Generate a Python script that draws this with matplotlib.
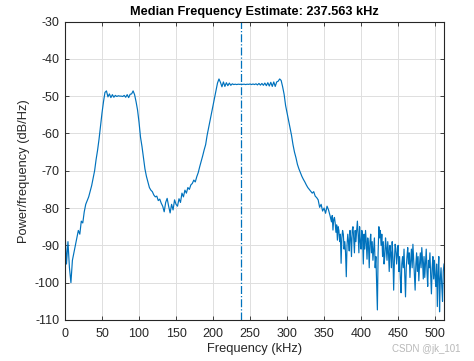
import numpy as np
import matplotlib
matplotlib.use("Agg")
import matplotlib.pyplot as plt

plt.rcParams['font.family'] = ['Liberation Sans', 'DejaVu Sans']
plt.rcParams['axes.unicode_minus'] = False

# Frequency bins (kHz): 2 kHz spacing up to 358, then 1 kHz spacing to 512
freq_khz = np.concatenate([np.arange(0, 360, 2), np.arange(360, 513, 1)])

# PSD estimate (dB/Hz), one value per bin
psd_db = [
    # 0-18
    -86, -95, -89, -96, -100, -94, -92, -90, -88, -86,
    # 20-38
    -87, -83.5, -84, -81, -79, -78, -77, -75.5, -74, -72,
    # 40-58
    -70, -67, -64.5, -61.5, -58, -54.5, -51.5, -49, -48.6, -50.2,
    # 60-78
    -49.4, -50.4, -49.6, -50.3, -49.8, -50.1, -49.9, -50.0, -50.0, -50.1,
    # 80-98
    -49.8, -50.3, -49.6, -50.4, -49.5, -49.4, -48.6, -49.6, -51.5, -53.7,
    # 100-118
    -57, -61, -63.5, -66.5, -69.5, -71.5, -73, -74.5, -75.2, -75.6,
    # 120-138
    -76.5, -77, -76.8, -78, -77.6, -78.7, -79.5, -81, -78.5, -77.4,
    # 140-158
    -79.5, -81.3, -79, -80.5, -77.8, -79, -79.5, -77.5, -78.5, -76,
    # 160-178
    -77, -75.2, -76, -74.5, -75, -73.8, -73.4, -72.5, -73, -71.6,
    # 180-198
    -70.5, -68.9, -67.5, -66, -64.4, -63, -60.5, -58.5, -56.5, -54.5,
    # 200-218
    -52.5, -50.5, -48.5, -46.5, -45.4, -46.3, -47.5, -46.2, -47.4, -46.4,
    # 220-238
    -47.2, -46.5, -47.1, -46.7, -46.9, -46.8, -46.9, -46.8, -46.85, -46.8,
    # 240-258
    -46.85, -46.8, -46.9, -46.8, -46.85, -46.75, -46.9, -46.75, -46.9, -46.7,
    # 260-278
    -47.0, -46.6, -47.05, -46.6, -47.1, -46.5, -47.2, -46.4, -47.3, -46.3,
    # 280-298
    -47.4, -46.2, -47.4, -46.2, -46.0, -45.4, -45.8, -47.5, -49.5, -52.5,
    # 300-318
    -54.5, -56.5, -58.5, -60.5, -63, -65, -66.5, -68.3, -69.5, -70.5,
    # 320-338
    -71.5, -72.3, -73, -73.8, -74.5, -75, -75.5, -76, -75.6, -76.8,
    # 340-358
    -77.2, -77.8, -79.8, -79, -80.8, -80, -81.4, -79.5, -80.5, -82,
    # 360-369 (1 kHz bins from here)
    -83.7, -82, -85.9, -83, -82.5, -84, -86.5, -84.5, -88.6, -85,
    # 370-379
    -86, -89, -87, -94.8, -88, -86, -87, -91, -89, -92,
    # 380-389
    -98.4, -90, -87, -89, -91.5, -86, -88, -93, -86, -85,
    # 390-399
    -88, -92, -86, -89, -86, -83.5, -87, -92, -85, -89,
    # 400-409
    -91, -86, -88, -95, -87, -91, -86, -89, -93.7, -88,
    # 410-419
    -90, -96, -89, -87, -92, -89, -94, -91, -88, -96,
    # 420-429
    -93, -100, -107.3, -92, -85, -88, -86, -90, -87, -93,
    # 430-439
    -89, -95, -93, -88, -90.6, -94, -89, -92, -97, -90,
    # 440-449
    -92, -96, -89, -93, -102, -94, -89.7, -91, -95, -92,
    # 450-459
    -90, -97, -93, -99, -102.7, -95, -93, -96, -91, -98,
    # 460-469
    -103.8, -96, -93, -90.6, -95, -92, -98.6, -94, -91, -96,
    # 470-479
    -89.7, -94, -98, -102, -95, -92, -97, -93, -99.5, -95,
    # 480-489
    -92, -96, -90.6, -94, -99, -93, -98.6, -95, -91, -97,
    # 490-499
    -101, -94, -96, -92, -98, -103, -96, -93, -99, -94,
    # 500-509
    -98.6, -101, -95, -106.4, -97, -93, -107.8, -99, -96, -101,
    # 510-512
    -105, -97, -95,
]

median_khz = 237.563
title_text = "Median Frequency Estimate: 237.563 kHz"
x_ticks = [0, 50, 100, 150, 200, 250, 300, 350, 400, 450, 500]
y_ticks = [-110, -100, -90, -80, -70, -60, -50, -40, -30]

line_color = '#0072BD'
axis_color = '#262626'

fig = plt.figure(figsize=(4.74, 3.61), dpi=100)
ax = fig.add_axes([65 / 474, 1 - 320 / 361, 379 / 474, 298.5 / 361])

ax.plot(freq_khz, psd_db, color=line_color, linewidth=0.85)
ax.axvline(median_khz, color=line_color, linestyle='-.', linewidth=0.9)

ax.set_xlim(0, 512)
ax.set_ylim(-110, -30)
ax.set_xticks(x_ticks)
ax.set_yticks(y_ticks)
ax.grid(True, color='#dedede', linewidth=0.7)
ax.set_axisbelow(True)

for s in ax.spines.values():
    s.set_color(axis_color)
    s.set_linewidth(0.8)
ax.tick_params(direction='in', length=3, width=0.6, colors=axis_color,
               labelsize=9, top=True, right=True)
ax.tick_params(axis='x', pad=6)
ax.tick_params(axis='y', pad=4)

ax.set_title(title_text, fontsize=9.2, fontweight='bold', color='black', pad=5)
ax.set_xlabel("Frequency (kHz)", fontsize=9.3, color=axis_color, labelpad=2)
ax.set_ylabel("Power/frequency (dB/Hz)", fontsize=9.3, color=axis_color, labelpad=3)

fig.text(460 / 474, 1 - 349 / 361, "CSDN @jk_101", fontsize=7, color='#b8b8b8',
         ha='right', va='center')

fig.savefig("out.png", dpi=100)
